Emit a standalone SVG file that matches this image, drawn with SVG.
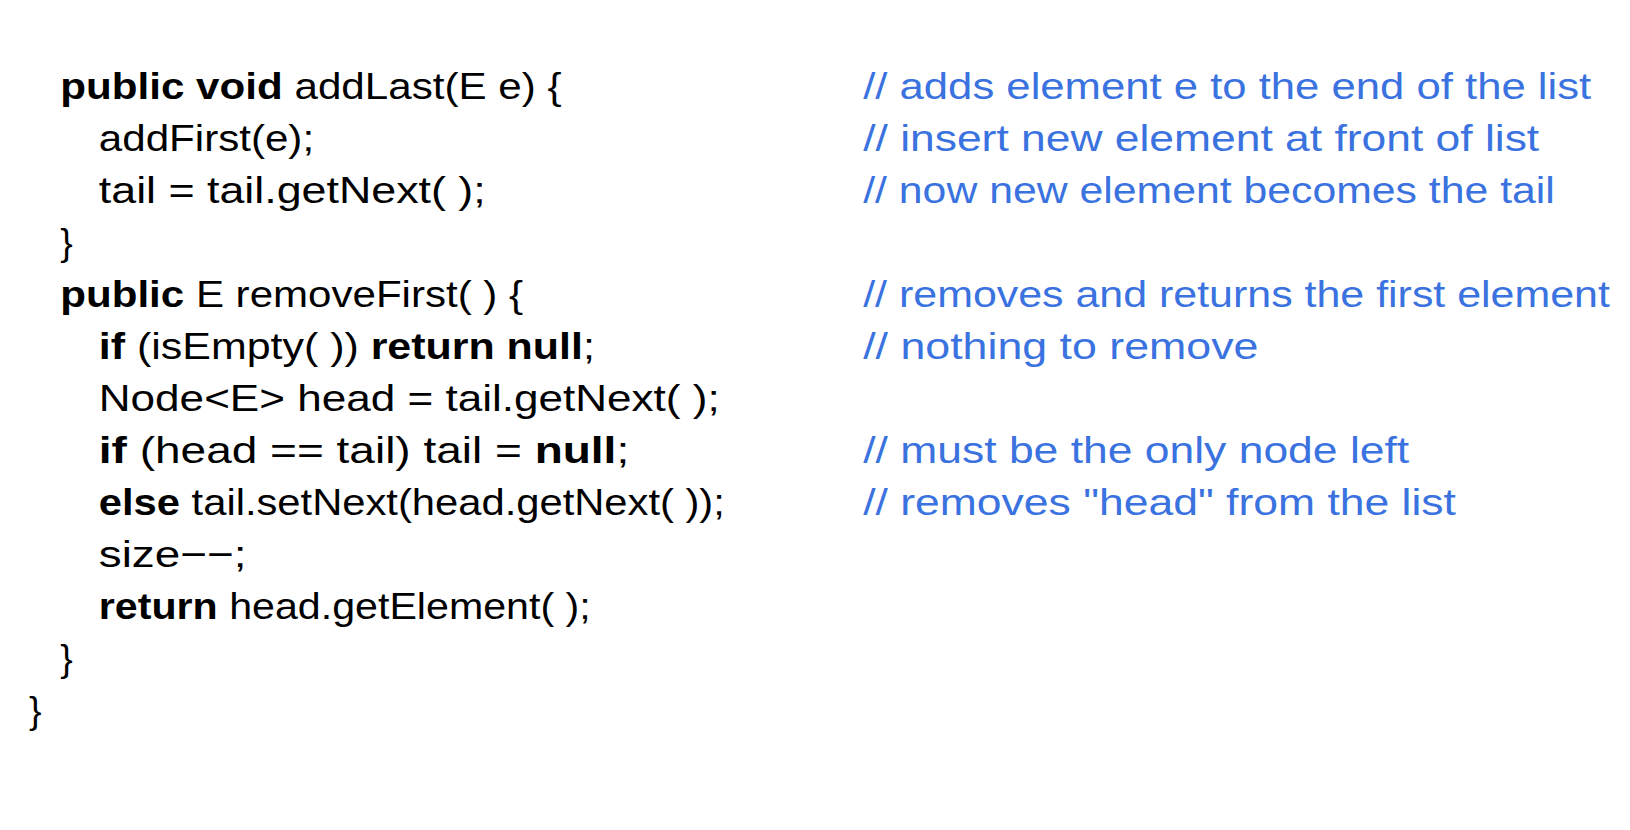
<svg xmlns="http://www.w3.org/2000/svg" width="1630" height="830" viewBox="0 0 1630 830">
<style>
text{font-family:"Liberation Sans","DejaVu Sans",sans-serif;font-size:36px;fill:#000}
.b{font-weight:bold}
.c{fill:#3a72e0}
</style>
<rect width="1630" height="830" fill="#fff"/>
<g transform="scale(1.04)">
<g id="code">
<text x="58" y="95" textLength="482" lengthAdjust="spacingAndGlyphs"><tspan class="b">public void</tspan> addLast(E e) {</text>
<text x="95" y="145" textLength="207" lengthAdjust="spacingAndGlyphs">addFirst(e);</text>
<text x="95" y="195" textLength="372" lengthAdjust="spacingAndGlyphs">tail = tail.getNext( );</text>
<text x="58" y="245">}</text>
<text x="58" y="295" textLength="445" lengthAdjust="spacingAndGlyphs"><tspan class="b">public</tspan> E removeFirst( ) {</text>
<text x="95" y="345" textLength="477" lengthAdjust="spacingAndGlyphs"><tspan class="b">if</tspan> (isEmpty( )) <tspan class="b">return null</tspan>;</text>
<text x="95" y="395" textLength="597" lengthAdjust="spacingAndGlyphs">Node&lt;E&gt; head = tail.getNext( );</text>
<text x="95" y="445" textLength="510" lengthAdjust="spacingAndGlyphs"><tspan class="b">if</tspan> (head == tail) tail = <tspan class="b">null</tspan>;</text>
<text x="95" y="495" textLength="602" lengthAdjust="spacingAndGlyphs"><tspan class="b">else</tspan> tail.setNext(head.getNext( ));</text>
<text x="95" y="545" textLength="142" lengthAdjust="spacingAndGlyphs">size−−;</text>
<text x="95" y="595" textLength="473" lengthAdjust="spacingAndGlyphs"><tspan class="b">return</tspan> head.getElement( );</text>
<text x="58" y="645">}</text>
<text x="28" y="695">}</text>
</g>
<g id="comments">
<text class="c" x="830" y="95" textLength="700" lengthAdjust="spacingAndGlyphs">// adds element e to the end of the list</text>
<text class="c" x="830" y="145" textLength="650" lengthAdjust="spacingAndGlyphs">// insert new element at front of list</text>
<text class="c" x="830" y="195" textLength="665" lengthAdjust="spacingAndGlyphs">// now new element becomes the tail</text>
<text class="c" x="830" y="295" textLength="718" lengthAdjust="spacingAndGlyphs">// removes and returns the first element</text>
<text class="c" x="830" y="345" textLength="380" lengthAdjust="spacingAndGlyphs">// nothing to remove</text>
<text class="c" x="830" y="445" textLength="525" lengthAdjust="spacingAndGlyphs">// must be the only node left</text>
<text class="c" x="830" y="495" textLength="570" lengthAdjust="spacingAndGlyphs">// removes "head" from the list</text>
</g>
</g>
</svg>
